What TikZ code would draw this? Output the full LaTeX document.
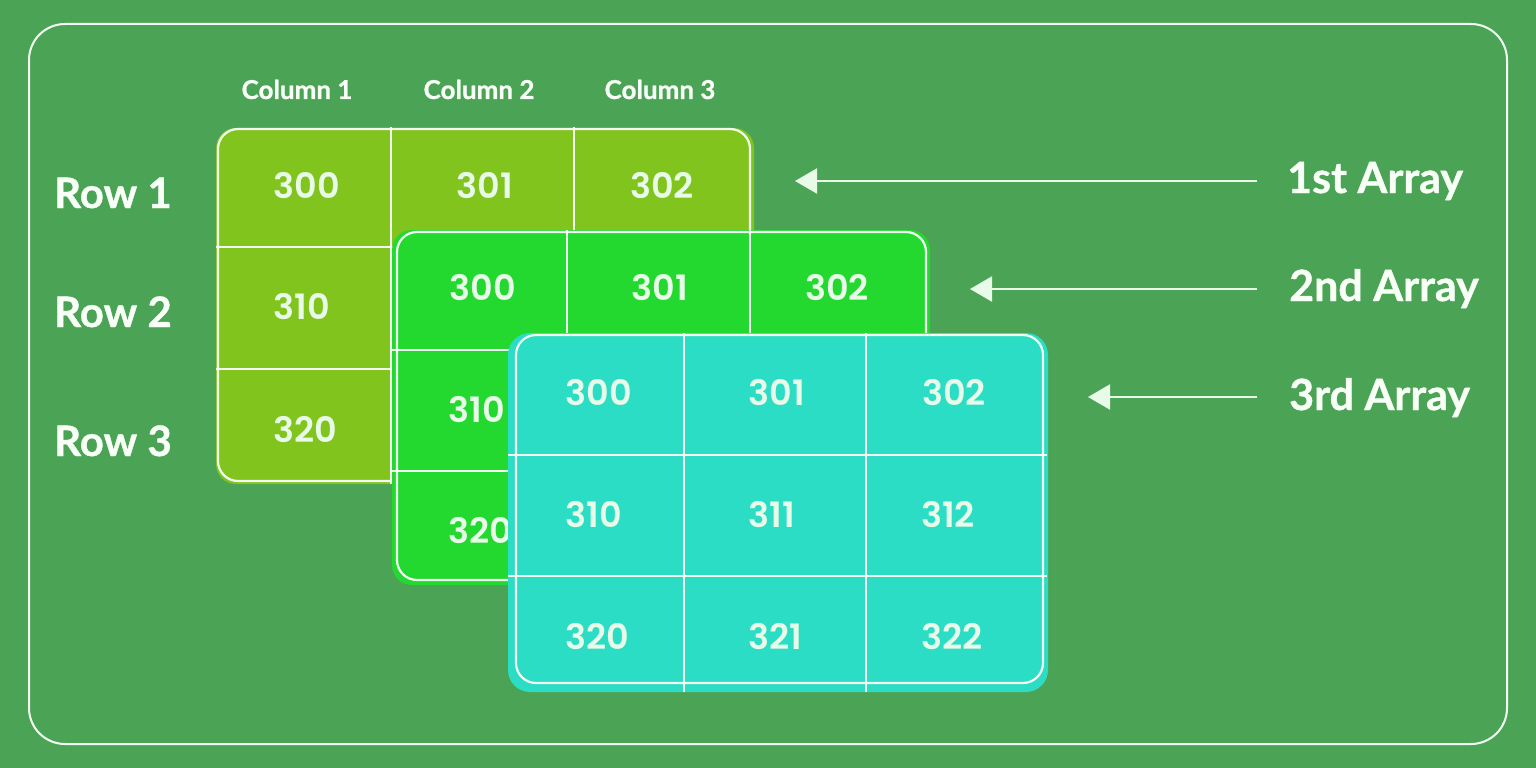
\documentclass[tikz,border=0pt]{standalone}
\usepackage{fontspec}
\setmainfont{Lato}
\newfontfamily\labfont{Lato}[BoldFeatures={FakeBold=0.9}]
\newfontfamily\numfont{Poppins SemiBold}
\usetikzlibrary{arrows.meta}
\definecolor{bg}{HTML}{4BA455}
\definecolor{aone}{HTML}{80C41D}
\definecolor{atwo}{HTML}{23D92F}
\definecolor{athree}{HTML}{2CDDC5}
\definecolor{linec}{HTML}{F2FFF2}
\definecolor{numc}{HTML}{E8FBE8}
\definecolor{labc}{HTML}{F7FFF7}
\tikzset{
  frame/.style={draw=linec, line width=2pt, rounded corners=36pt},
  gridl/.style={draw=linec, line width=2pt},
  outl/.style={draw=linec, line width=2.2pt, rounded corners=20pt},
  num/.style={font=\numfont\fontsize{35}{40}\selectfont, text=numc, inner sep=0pt},
  rowlab/.style={font=\labfont\bfseries\fontsize{42}{48}\selectfont, text=labc, inner sep=0pt, anchor=base west},
  arrlab/.style={font=\labfont\bfseries\fontsize{43}{48}\selectfont, text=labc, inner sep=0pt, anchor=base west},
  collab/.style={font=\labfont\bfseries\fontsize{26}{30}\selectfont, text=labc, inner sep=0pt, anchor=base},
  pointer/.style={draw=numc, line width=2.2pt, -{Triangle[length=22pt,width=25pt]}}
}
\begin{document}
\begin{tikzpicture}[x=1pt,y=-1pt]
\useasboundingbox (0,0) rectangle (1536,768);
\fill[bg] (0,0) rectangle (1536,768);
\draw[frame] (29,24) rectangle (1507,744);

% column labels
\node[collab] (c1) at (297,99) {Column 1};
\node[collab] (c2) at (479,99) {Column 2};
\node[collab] (c3) at (660,99) {Column 3};

% row labels
\node[rowlab] (r1) at (54,208) {Row 1};
\node[rowlab] (r2) at (54,327) {Row 2};
\node[rowlab] (r3) at (54,456) {Row 3};

% ---------- array 1
\fill[aone, rounded corners=20pt] (216,128) rectangle (754,484);
\draw[gridl] (391,127) -- (391,484) (574,127) -- (574,484)
             (216,247) -- (754,247) (216,369) -- (754,369);
\draw[outl] (218,129) rectangle (750,481);
\node[num] (a1n300) at (307,186) {300};
\node[num] (a1n301) at (485,186) {301};
\node[num] (a1n302) at (662,186) {302};
\node[num] (a1n310) at (302,307) {310};
\node[num] (a1n320) at (305,430) {320};

% ---------- array 2
\fill[atwo, rounded corners=20pt] (392,230) rectangle (930,585);
\draw[gridl] (567,230) -- (567,585) (750,230) -- (750,585)
             (392,350) -- (930,350) (392,471) -- (930,471);
\draw[outl] (397,232) rectangle (926,580);
\node[num] (a2n300) at (483,288) {300};
\node[num] (a2n301) at (660,288) {301};
\node[num] (a2n302) at (837,288) {302};
\node[num] (a2n310) at (477,410) {310};
\node[num] (a2n320) at (480,531) {320};

% ---------- array 3
\fill[athree, rounded corners=22pt] (508,333) rectangle (1048,692);
\draw[gridl] (684,333) -- (684,692) (866,333) -- (866,692)
             (508,455) -- (1047,455) (508,576) -- (1047,576);
\draw[outl] (516,335) rectangle (1043,683);
\node[num] (a3n300) at (599,393) {300};
\node[num] (a3n301) at (777,393) {301};
\node[num] (a3n302) at (954,393) {302};
\node[num] (a3n310) at (594,515) {310};
\node[num] (a3n311) at (772,515) {311};
\node[num] (a3n312) at (948,515) {312};
\node[num] (a3n320) at (597,637) {320};
\node[num] (a3n321) at (775,637) {321};
\node[num] (a3n322) at (952,637) {322};

% ---------- array labels and pointers
\node[arrlab] (l1) at (1287,193) {1st Array};
\node[arrlab] (l2) at (1289,301) {2nd Array};
\node[arrlab] (l3) at (1289,410) {3rd Array};
\coordinate (s1) at (1257,181);
\coordinate (e1) at (795,181);
\coordinate (s2) at (1257,289);
\coordinate (e2) at (970,289);
\coordinate (s3) at (1257,397);
\coordinate (e3) at (1088,397);
\draw[pointer] (s1) -- (e1);
\draw[pointer] (s2) -- (e2);
\draw[pointer] (s3) -- (e3);
\end{tikzpicture}
\end{document}
